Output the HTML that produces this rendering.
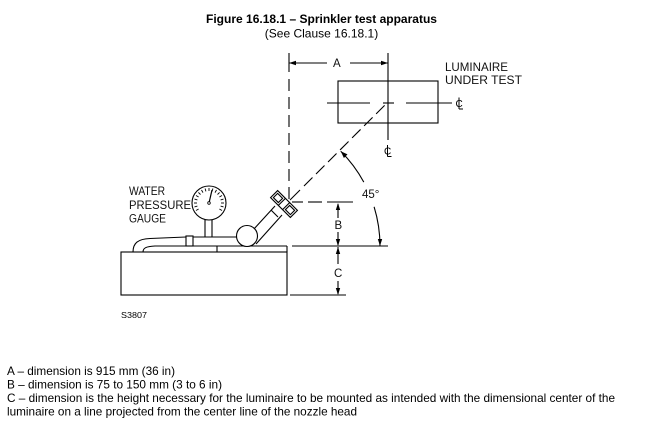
<!DOCTYPE html>
<html>
<head>
<meta charset="utf-8">
<style>
  html, body { margin: 0; padding: 0; background: #fff; }
  svg { display: block; }
  text { font-family: "Liberation Sans", "DejaVu Sans", sans-serif; fill: #000; }
  .lab { font-size: 11.5px; fill: #111; }
</style>
</head>
<body>
<svg width="650" height="429" viewBox="0 0 650 429" xmlns="http://www.w3.org/2000/svg">
  <rect x="0" y="0" width="650" height="429" fill="#fff"/>

  <!-- Title -->
  <text x="206" y="23" font-size="12.3" font-weight="bold" textLength="231" lengthAdjust="spacingAndGlyphs">Figure 16.18.1 – Sprinkler test apparatus</text>
  <text x="321.5" y="37.5" font-size="12" text-anchor="middle">(See Clause 16.18.1)</text>

  <g stroke="#000" stroke-width="1.1" fill="none">
    <!-- Luminaire -->
    <rect x="338" y="81" width="100" height="42"/>
    <line x1="388" y1="53" x2="388" y2="140"/>
    <line x1="327" y1="103" x2="370" y2="103"/>
    <line x1="383" y1="103" x2="394" y2="103"/>
    <line x1="406" y1="103" x2="452" y2="103"/>

    <!-- vertical dashed from nozzle -->
    <line x1="289" y1="53" x2="289" y2="72"/>
    <line x1="289" y1="79" x2="289" y2="200" stroke-dasharray="12 6"/>

    <!-- A dimension -->
    <line x1="289" y1="63" x2="327" y2="63"/>
    <line x1="350" y1="63" x2="388" y2="63"/>

    <!-- diagonal dashed -->
    <line x1="290" y1="200" x2="300" y2="190"/>
    <line x1="304" y1="186" x2="387" y2="103" stroke-dasharray="12 5"/>

    <!-- horizontal dashed at nozzle -->
    <line x1="292" y1="202" x2="303" y2="202"/>
    <line x1="308" y1="202" x2="322" y2="202"/>
    <line x1="327" y1="202" x2="353" y2="202"/>

    <!-- B/C extension lines -->
    <line x1="292" y1="246" x2="388" y2="246"/>
    <line x1="290" y1="295" x2="346" y2="295"/>

    <!-- B dimension -->
    <line x1="338" y1="204" x2="338" y2="218"/>
    <line x1="338" y1="232" x2="338" y2="245"/>
    <!-- C dimension -->
    <line x1="338" y1="247" x2="338" y2="264"/>
    <line x1="338" y1="281" x2="338" y2="294"/>

    <!-- 45 deg arc -->
    <path d="M 340.75 151.25 A 134 134 0 0 1 363.8 182.1"/>
    <path d="M 374.1 206.8 A 134 134 0 0 1 380 246"/>

    <!-- Base box -->
    <rect x="121" y="252" width="166" height="43"/>
    <!-- slab -->
    <line x1="193" y1="246" x2="287" y2="246"/>
    <line x1="217" y1="246" x2="217" y2="252"/>
    <line x1="287" y1="246" x2="287" y2="252"/>

    <!-- pipe -->
    <path d="M 133 252 C 133 243, 138 239, 150 238.5 L 186 237"/>
    <path d="M 143 252 C 143 248, 146 246.5, 155 246 L 186 246"/>
    <line x1="193" y1="237" x2="238" y2="237"/>
    <rect x="186" y="236" width="7" height="10"/>

    <!-- gauge stem -->
    <line x1="205" y1="219" x2="205" y2="237"/>
    <line x1="212" y1="219" x2="212" y2="237"/>
  </g>

  <!-- gauge -->
  <circle cx="209" cy="203" r="17" fill="#fff" stroke="#000" stroke-width="1.1"/>
  <g stroke="#000" stroke-width="0.9">
    <line x1="198.6" y1="209" x2="196" y2="210.5"/>
    <line x1="197.4" y1="206.1" x2="194.5" y2="206.9"/>
    <line x1="197" y1="203" x2="194" y2="203"/>
    <line x1="197.4" y1="199.9" x2="194.5" y2="199.1"/>
    <line x1="198.6" y1="197" x2="196" y2="195.5"/>
    <line x1="200.5" y1="194.5" x2="198.4" y2="192.4"/>
    <line x1="203" y1="192.6" x2="201.5" y2="190"/>
    <line x1="205.9" y1="191.4" x2="205.1" y2="188.5"/>
    <line x1="209" y1="191" x2="209" y2="188"/>
    <line x1="212.1" y1="191.4" x2="212.9" y2="188.5"/>
    <line x1="215" y1="192.6" x2="216.5" y2="190"/>
    <line x1="217.5" y1="194.5" x2="219.6" y2="192.4"/>
    <line x1="219.4" y1="197" x2="222" y2="195.5"/>
    <line x1="220.6" y1="199.9" x2="223.5" y2="199.1"/>
    <line x1="221" y1="203" x2="224" y2="203"/>
    <line x1="220.6" y1="206.1" x2="223.5" y2="206.9"/>
    <line x1="219.4" y1="209" x2="222" y2="210.5"/>
    <line x1="209" y1="203" x2="212" y2="190" stroke-width="1.2"/>
  </g>
  <circle cx="209" cy="203" r="1.3" fill="#fff" stroke="#000" stroke-width="0.8"/>

  <!-- arm -->
  <g stroke="#000" stroke-width="1.1" fill="none">
    <line x1="253" y1="230" x2="275" y2="206"/>
    <line x1="256" y1="244" x2="282" y2="215"/>
    <line x1="271" y1="210" x2="278" y2="217"/>
  </g>
  <!-- ball -->
  <circle cx="247" cy="236" r="10.5" fill="#fff" stroke="#000" stroke-width="1.1"/>

  <!-- nozzle head -->
  <g transform="translate(284,204) rotate(45)" stroke="#000" stroke-width="1.1" fill="#fff">
    <rect x="-14" y="-5" width="28" height="10"/>
    <rect x="-12" y="-3" width="7" height="6" fill="none"/>
    <rect x="5" y="-3" width="7" height="6" fill="none"/>
    <line x1="-3" y1="-5" x2="-3" y2="5"/>
    <line x1="3" y1="-5" x2="3" y2="5"/>
  </g>

  <!-- arrowheads -->
  <g fill="#000" stroke="none">
    <polygon points="289,63 296,60.8 296,65.2"/>
    <polygon points="388,63 381,60.8 381,65.2"/>
    <polygon points="338,203 335.8,210 340.2,210"/>
    <polygon points="338,246 335.8,239 340.2,239"/>
    <polygon points="338,247 335.8,254 340.2,254"/>
    <polygon points="338,295 335.8,288 340.2,288"/>
    <polygon points="340.75,151.25 347.5,154.4 343.9,158.0"/>
    <polygon points="380,246 377.8,239 382.2,239"/>
  </g>

  <!-- centre line symbols -->
  <g>
    <text x="455.5" y="107" font-size="10" fill="#111">C</text>
    <line x1="459" y1="97.5" x2="459" y2="109" stroke="#000" stroke-width="1"/>
    <line x1="459" y1="109" x2="463" y2="109" stroke="#000" stroke-width="1"/>
    <text x="384" y="154.5" font-size="10" fill="#111">C</text>
    <line x1="387.5" y1="145" x2="387.5" y2="156.5" stroke="#000" stroke-width="1"/>
    <line x1="387.5" y1="156.5" x2="391.5" y2="156.5" stroke="#000" stroke-width="1"/>
  </g>

  <!-- diagram labels -->
  <text class="lab" x="129" y="195" textLength="36" lengthAdjust="spacingAndGlyphs">WATER</text>
  <text class="lab" x="129" y="209" textLength="62" lengthAdjust="spacingAndGlyphs">PRESSURE</text>
  <text class="lab" x="129" y="222.5" textLength="37" lengthAdjust="spacingAndGlyphs">GAUGE</text>
  <text class="lab" x="445" y="71" textLength="63" lengthAdjust="spacingAndGlyphs">LUMINAIRE</text>
  <text class="lab" x="445" y="84" textLength="77" lengthAdjust="spacingAndGlyphs">UNDER TEST</text>
  <text class="lab" x="333" y="67">A</text>
  <text class="lab" x="362" y="198">45°</text>
  <text class="lab" x="334.5" y="229">B</text>
  <text class="lab" x="334" y="277">C</text>
  <text x="121" y="318" font-size="8.5" fill="#111" textLength="26" lengthAdjust="spacingAndGlyphs">S3807</text>

  <!-- Legend -->
  <text x="7" y="375" font-size="11.7" textLength="168" lengthAdjust="spacingAndGlyphs">A – dimension is 915 mm (36 in)</text>
  <text x="7" y="388.5" font-size="11.7" textLength="215" lengthAdjust="spacingAndGlyphs">B – dimension is 75 to 150 mm (3 to 6 in)</text>
  <text x="7" y="402" font-size="11.7" textLength="608" lengthAdjust="spacingAndGlyphs">C – dimension is the height necessary for the luminaire to be mounted as intended with the dimensional center of the</text>
  <text x="7" y="415.5" font-size="11.7" textLength="350" lengthAdjust="spacingAndGlyphs">luminaire on a line projected from the center line of the nozzle head</text>
</svg>
</body>
</html>
